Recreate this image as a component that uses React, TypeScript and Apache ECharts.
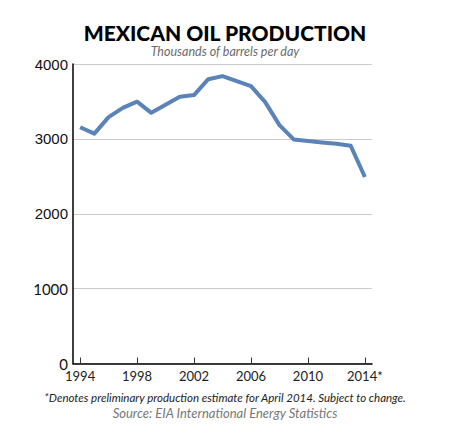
import React, { useEffect, useRef } from "react";
import * as echarts from "echarts";

const years = [
  "1994", "1995", "1996", "1997", "1998", "1999", "2000", "2001", "2002", "2003",
  "2004", "2005", "2006", "2007", "2008", "2009", "2010", "2011", "2012", "2013", "2014*",
];
const production = [
  3155, 3070, 3290, 3415, 3497, 3348, 3456, 3562, 3585, 3797,
  3838, 3771, 3704, 3491, 3184, 2993, 2971, 2953, 2936, 2909, 2491,
];
const yTicks = [0, 1000, 2000, 3000, 4000];
const title = "MEXICAN OIL PRODUCTION";
const subtitle = "Thousands of barrels per day";
const footnote = "*Denotes preliminary production estimate for April 2014. Subject to change.";
const source = "Source: EIA International Energy Statistics";

export default function App() {
  const ref = useRef<HTMLDivElement>(null);
  useEffect(() => {
    if (!ref.current) return;
    const chart = echarts.init(ref.current, null, { renderer: "svg" });
    chart.setOption({
      animation: false,
      backgroundColor: "#ffffff",
      title: [
        {
          text: title,
          left: "center",
          top: 17,
          textStyle: { fontFamily: "Lato", fontWeight: 900, fontSize: 21, color: "#000" },
        },
        {
          text: subtitle,
          left: "center",
          top: 40,
          textStyle: { fontFamily: "Lato", fontStyle: "italic", fontWeight: "normal", fontSize: 12.5, color: "#6b6b6b" },
        },
        {
          text: footnote,
          left: "center",
          top: 386,
          textStyle: { fontFamily: "Lato", fontStyle: "italic", fontWeight: "normal", fontSize: 11.5, color: "#222" },
        },
        {
          text: source,
          left: "center",
          top: 401,
          textStyle: { fontFamily: "Lato", fontStyle: "italic", fontWeight: "normal", fontSize: 13, color: "#777" },
        },
      ],
      grid: { left: 73, right: 78, top: 64, bottom: 66.5, containLabel: false },
      xAxis: {
        type: "category",
        data: years,
        boundaryGap: true,
        axisLine: { show: true, lineStyle: { color: "#000", width: 1.5 } },
        axisTick: { show: true, inside: true, alignWithLabel: true, length: 6, lineStyle: { color: "#333", width: 1 } },
        axisLabel: {
          interval: 3,
          margin: 6,
          fontFamily: "Lato",
          fontSize: 13,
          lineHeight: 12,
          color: "#222",
        },
        splitLine: { show: false },
      },
      yAxis: {
        type: "value",
        min: yTicks[0],
        max: yTicks[yTicks.length - 1],
        interval: 1000,
        axisLine: { show: true, lineStyle: { color: "#000", width: 1.5 } },
        axisTick: { show: false },
        axisLabel: {
          margin: 5,
          formatter: (v: number) => (v >= 2000 ? `{a|${v}}` : `{b|${v}}`),
          rich: {
            a: { fontFamily: "Liberation Sans", fontWeight: "normal", fontSize: 15, lineHeight: 12, color: "#111" },
            b: { fontFamily: "Lato", fontWeight: "normal", fontSize: 15, lineHeight: 12, color: "#111" },
          },
        },
        splitLine: { show: true, lineStyle: { color: "#cccccc", width: 1.2 } },
      },
      series: [
        {
          type: "line",
          data: production,
          symbol: "none",
          lineStyle: { color: "#5a83b9", width: 4, join: "round" },
          z: 3,
        },
      ],
    });
    return () => chart.dispose();
  }, []);
  return <div ref={ref} style={{ width: 450, height: 430, margin: -8 }} />;
}
